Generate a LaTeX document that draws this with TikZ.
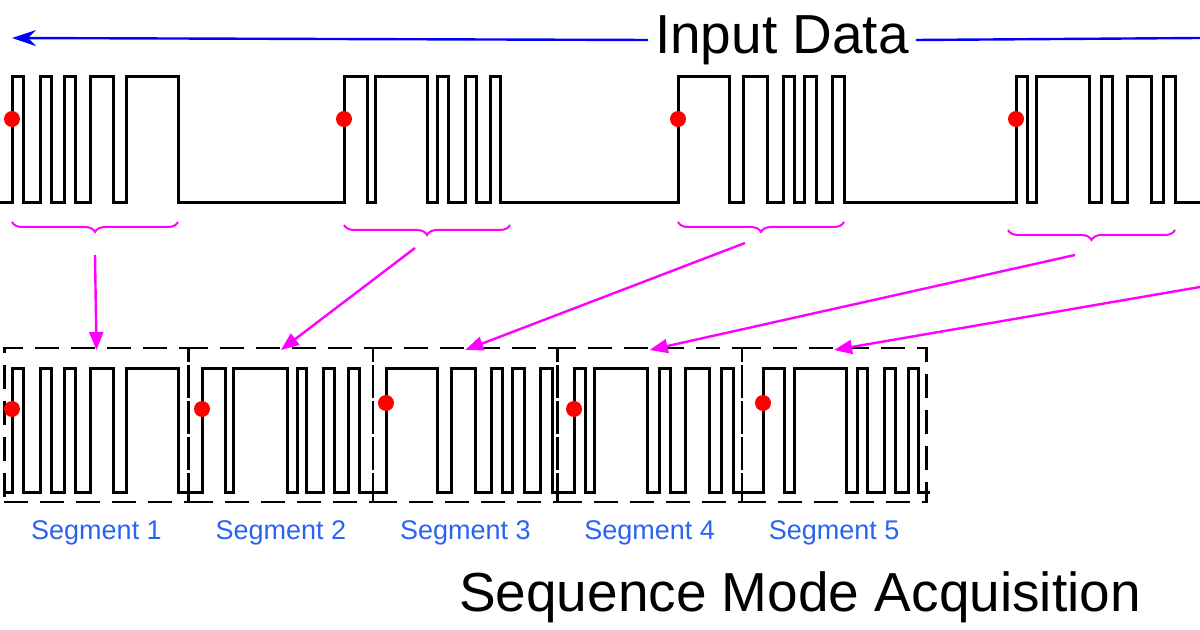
\documentclass[tikz,border=0pt]{standalone}
\usepackage{fontspec}
\setmainfont{Liberation Sans}
\usetikzlibrary{positioning,decorations.pathreplacing,arrows.meta}
\definecolor{segblue}{RGB}{40,100,240}
\definecolor{pink}{RGB}{255,0,255}
\definecolor{flow}{RGB}{0,0,255}
\begin{document}
\begin{tikzpicture}[x=0.5pt, y=-0.5pt,
    wave/.style={line width=1.5pt, black},
    dot/.style={circle, fill=red, inner sep=0pt, minimum size=8pt},
    seg/.style={draw, dashed, dash pattern=on 12pt off 6pt, line width=1.3pt, minimum width=92.2pt, minimum height=77pt, inner sep=0pt, outer sep=0pt},
    seglabel/.style={text=segblue, font=\fontsize{13.5}{16}\selectfont, below=6pt},
    grp/.style={decorate, decoration={brace, amplitude=5pt, mirror}, pink, line width=1pt},
    pick/.style={-{Triangle[length=9pt,width=7pt]}, pink, line width=1.2pt},
    big/.style={font=\fontsize{27.5}{32}\selectfont}
]
    \useasboundingbox (0,0) rectangle (1200,630);

    % Title and data arrow
    \node[big] (input) at (782,40) {Input Data};
    \coordinate (inleft) at (12,38);
    \coordinate (inright) at (1200,38);
    \draw[-{Stealth[length=12pt,width=8pt]}, flow, line width=1.2pt] (input.west) -- (inleft);
    \draw[flow, line width=1.2pt] (input.east) -- (inright);

    % Input waveform
    \draw[wave] (0,203)
      \foreach \r/\f in {12/23,40/51,64/75,90/113,126/178,
                         344/367,375/427,437/448,465/476,490/500,
                         678/729,743/767,783/794,804/816,832/844,
                         1016/1027,1036/1089,1101/1112,1127/1151,1163/1175}
      { -- (\r,203) -- (\r,77) -- (\f,77) -- (\f,203) } -- (1200,203);
    \foreach \x [count=\i] in {12,344,678,1016}
      \node[dot] (t\i) at (\x,119) {};

    % Braces
    \draw[grp] (12,222) -- (178,222);
    \draw[grp] (344,225) -- (510,225);
    \draw[grp] (678,222) -- (844,222);
    \draw[grp] (1008,230) -- (1175,230);
    \coordinate (b1) at (95,255);
    \coordinate (b2) at (415,248);
    \coordinate (b3) at (745,243);
    \coordinate (b4) at (1075,255);
    \coordinate (b5) at (1200,287);

    % Segments
    \node[seg] (s1) at (96.5,425) {};
    \node[seg, right=0pt of s1] (s2) {};
    \node[seg, right=0pt of s2] (s3) {};
    \node[seg, right=0pt of s3] (s4) {};
    \node[seg, right=0pt of s4] (s5) {};
    \foreach \i in {1,...,5}
      \node[seglabel] (l\i) at (s\i.south) {Segment \i};

    \draw[wave] (3,493)
      \foreach \r/\f in {12/23,40/51,64/75,90/113,126/178,
                         202/225,233/287,297/306,323/334,348/359,
                         386/437,451/475,491/502,512/524,540/552,
                         574/585,594/647,659/670,685/709,721/733,
                         763/784,794/846,857/867,884/895,908/918}
      { -- (\r,493) -- (\r,369) -- (\f,369) -- (\f,493) } -- (930,493);
    \node[dot] (d1) at (12,409) {};
    \node[dot] (d2) at (202,409) {};
    \node[dot] (d3) at (386,403) {};
    \node[dot] (d4) at (574,409) {};
    \node[dot] (d5) at (763,403) {};

    % Arrows from bursts to segments
    \foreach \i in {1,...,5}
      \draw[pick] (b\i) -- ([yshift=-1pt]s\i.north);

    \node[big] (mode) at (800,597) {Sequence Mode Acquisition};
\end{tikzpicture}
\end{document}
